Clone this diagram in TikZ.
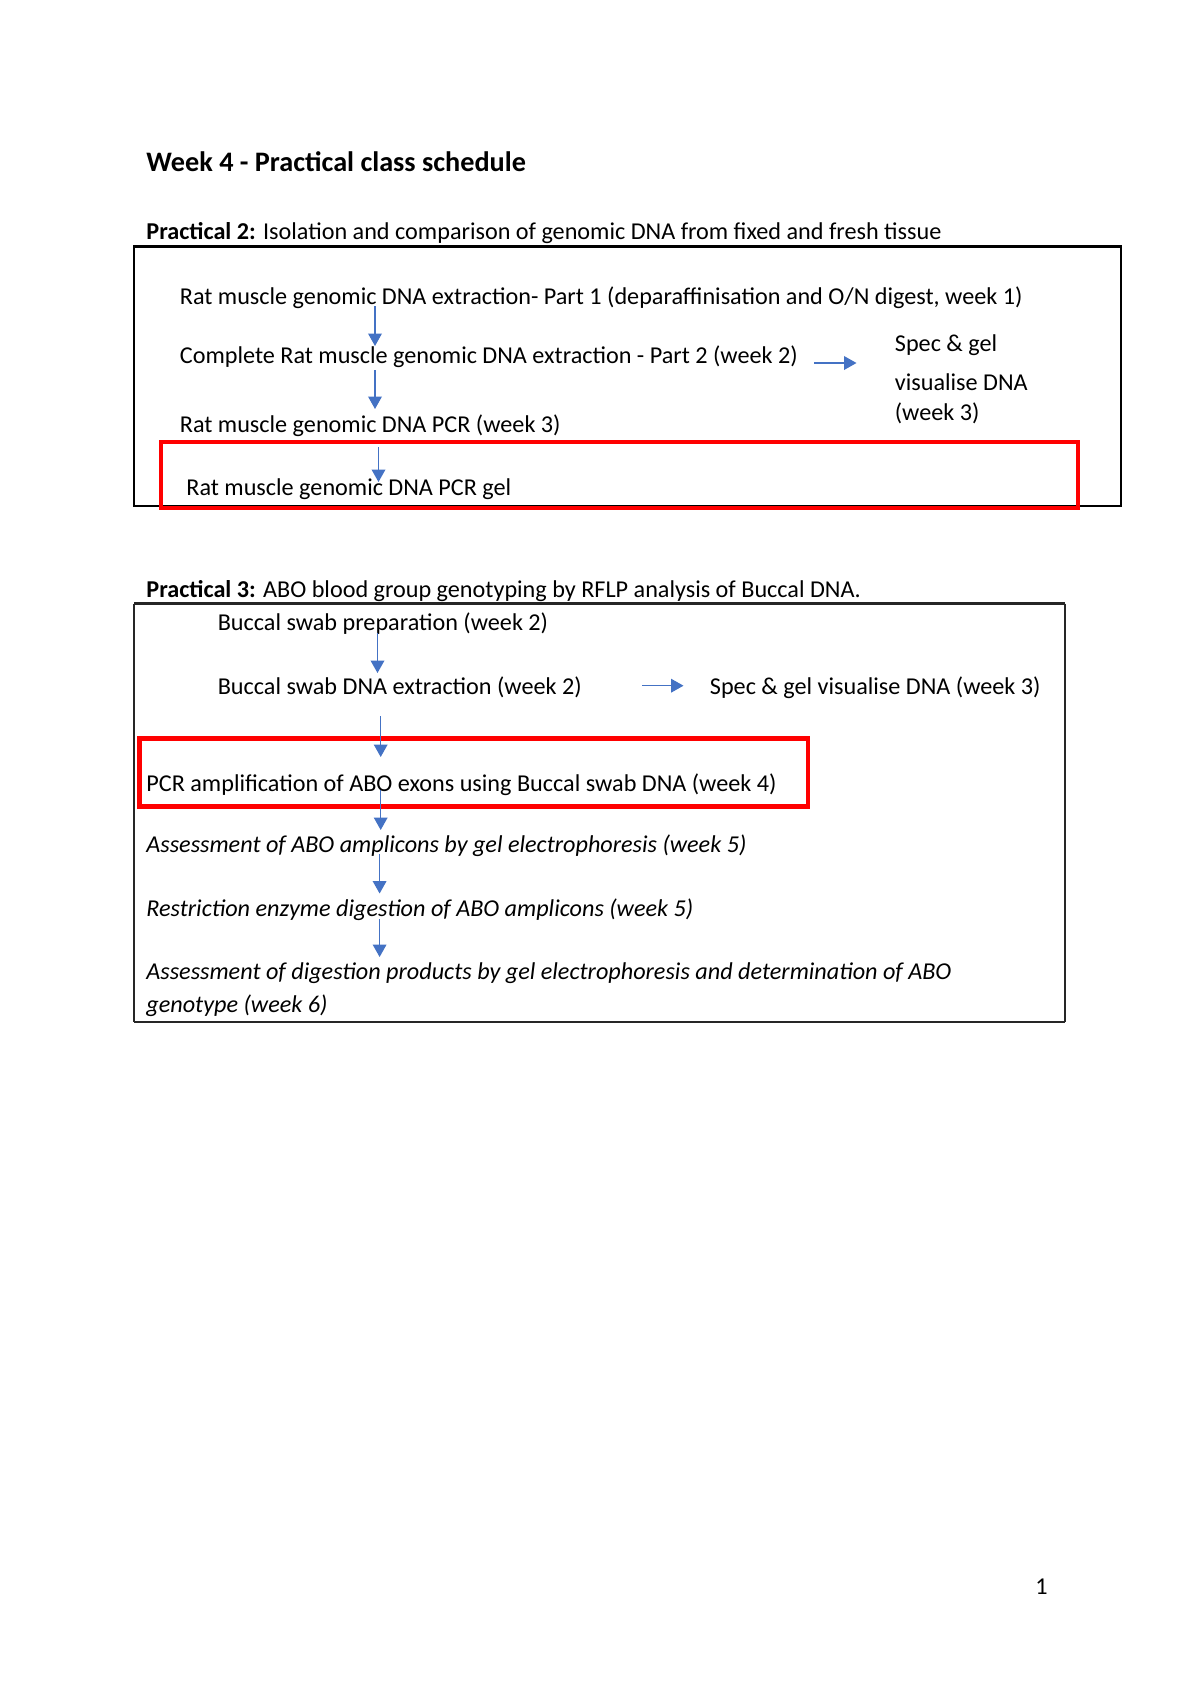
\documentclass[tikz,border=0pt]{standalone}
\usepackage{fontspec}
\setmainfont{Carlito}
\usetikzlibrary{arrows.meta}
\definecolor{flowblue}{HTML}{4472C4}
\definecolor{hired}{HTML}{FF0000}
\begin{document}
\begin{tikzpicture}[x=0.49606pt,y=-0.49606pt,
  txt/.style={anchor=base west, inner sep=0pt, font=\fontsize{12}{14.4}\selectfont},
  itxt/.style={txt, font=\fontsize{12}{14.4}\selectfont\itshape},
  ttl/.style={anchor=base west, inner sep=0pt, font=\fontsize{14}{16.8}\selectfont\bfseries},
  flow/.style={draw=flowblue, line width=0.65pt, -{Triangle[width=6.8pt,length=6.2pt]}},
  framebox/.style={draw=black, line width=1pt},
  thinside/.style={draw=black!85, line width=0.6pt},
  thickside/.style={draw=black!85, line width=1pt},
  hilite/.style={draw=hired, line width=2.4pt}]
\useasboundingbox[fill=white] (0,0) rectangle (1200,1696);

% Title
\node[ttl] (title) at (146,171) {Week 4 - Practical class schedule};

% Practical 2
\node[txt] (p2head) at (146,239.5) {\textbf{Practical 2:} Isolation and comparison of genomic DNA from fixed and fresh tissue};
\draw[framebox] (134,246.5) rectangle (1121,506);
\node[txt] (r1) at (179.5,304.5) {Rat muscle genomic DNA extraction- Part 1 (deparaffinisation and O/N digest, week 1)};
\node[txt] (r2) at (179.5,363.5) {Complete Rat muscle genomic DNA extraction - Part 2 (week 2)};
\node[txt] (r3) at (179.5,432.5) {Rat muscle genomic DNA PCR (week 3)};
\node[txt] (r4) at (186,495.5) {Rat muscle genomic DNA PCR gel};
\node[txt] (s1a) at (894.5,351.5) {Spec \& gel};
\node[txt] (s1b) at (894.5,390.5) {visualise DNA};
\node[txt] (s1c) at (894.5,420.5) {(week 3)};
\draw[hilite] (161,442) rectangle (1078,508);

\coordinate (a1s) at (375,306); \coordinate (a1e) at (375,346);
\coordinate (a2s) at (375,370); \coordinate (a2e) at (375,409);
\coordinate (a3s) at (378.5,447); \coordinate (a3e) at (378.5,482);
\coordinate (h1s) at (814,363); \coordinate (h1e) at (856.5,363);
\draw[flow] (a1s) -- (a1e);
\draw[flow] (a2s) -- (a2e);
\draw[flow] (a3s) -- (a3e);
\draw[flow] (h1s) -- (h1e);

% Practical 3
\node[txt] (p3head) at (146,597.5) {\textbf{Practical 3:} ABO blood group genotyping by RFLP analysis of Buccal DNA.};
\draw[thickside] (134,603.5) -- (1065,603.5);
\draw[thickside] (134,1022) -- (1065,1022);
\draw[thinside] (134,603.5) -- (134,1022);
\draw[thinside] (1065,603.5) -- (1065,1022);
\node[txt] (b1) at (217.4,630.5) {Buccal swab preparation (week 2)};
\node[txt] (b2) at (217.4,694) {Buccal swab DNA extraction (week 2)};
\node[txt] (s2) at (709.5,694) {Spec \& gel visualise DNA (week 3)};
\node[txt] (b3) at (146,791.5) {PCR amplification of ABO exons using Buccal swab DNA (week 4)};
\node[itxt] (b4) at (146,852) {Assessment of ABO amplicons by gel electrophoresis (week 5)};
\node[itxt] (b5) at (146,916) {Restriction enzyme digestion of ABO amplicons (week 5)};
\node[itxt] (b6) at (146,979.5) {Assessment of digestion products by gel electrophoresis and determination of ABO};
\node[itxt] (b6b) at (146,1012) {genotype (week 6)};
\draw[hilite] (139.5,738.7) rectangle (808,806.8);

\coordinate (c1s) at (377.5,632.7); \coordinate (c1e) at (377.5,673);
\coordinate (h2s) at (642.4,685.7); \coordinate (h2e) at (683.5,685.7);
\coordinate (c2s) at (380.7,716); \coordinate (c2e) at (380.7,757);
\coordinate (c3s) at (380.7,789.5); \coordinate (c3e) at (380.7,830);
\coordinate (c4s) at (379.6,854.4); \coordinate (c4e) at (379.6,893.5);
\coordinate (c5s) at (379.6,919); \coordinate (c5e) at (379.6,957);
\draw[flow] (c1s) -- (c1e);
\draw[flow] (h2s) -- (h2e);
\draw[flow] (c2s) -- (c2e);
\draw[flow] (c3s) -- (c3e);
\draw[flow] (c4s) -- (c4e);
\draw[flow] (c5s) -- (c5e);

% page number
\node[txt] (pg) at (1035,1594) {1};
\end{tikzpicture}
\end{document}
